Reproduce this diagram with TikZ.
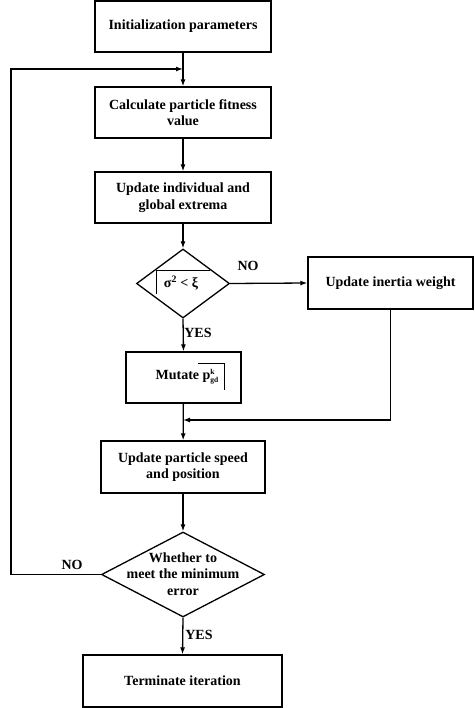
\documentclass[tikz,border=0pt]{standalone}
\usepackage{fontspec}
\setmainfont{Liberation Serif}
\usetikzlibrary{shapes.geometric,arrows.meta}
\newcommand\myfsz{\fontsize{14}{16.5}\selectfont}
\begin{document}
\begin{tikzpicture}[x=1pt,y=-1pt, line width=1.3pt,
  box/.style={draw, rectangle, align=center, inner sep=0pt, font=\myfsz\bfseries},
  dia/.style={draw, diamond, inner sep=0pt},
  txt/.style={align=center, inner sep=0pt, font=\myfsz\bfseries},
  lbl/.style={inner sep=0pt, font=\myfsz\bfseries},
  arr/.style={-{Latex[length=7pt,width=5pt]}},
  frm/.style={line width=0.9pt}]
\useasboundingbox (0,0) rectangle (474,708);
\node[box, minimum width=176, minimum height=51] (b1) at (183,26.5) {Initialization parameters};
\node[box, minimum width=176, minimum height=51] (b2) at (183,112.5) {Calculate particle fitness\\value};
\node[box, minimum width=176, minimum height=51] (b3) at (183,197.5) {Update individual and\\global extrema};
\node[dia, minimum width=93, minimum height=69] (d1) at (183,283.5) {};
\node[txt] (d1t) at (181,283) {σ\textsuperscript{2} < ξ};
\node[box, minimum width=165, minimum height=52] (b4) at (390.5,283) {Update inertia weight};
\node[box, minimum width=115, minimum height=51] (b5) at (183.5,377.5) {};
\node[txt] (b5t) at (187,377) {Mutate p\raisebox{-3.5pt}{\fontsize{7.5}{10}\selectfont\shortstack[l]{k\\gd}}};
\node[box, minimum width=164, minimum height=52] (b6) at (183,467) {Update particle speed\\and position};
\node[dia, minimum width=163, minimum height=85] (d2) at (183,574.5) {};
\node[txt] (d2t) at (183,574) {Whether to\\meet the minimum\\error};
\node[box, minimum width=199, minimum height=52] (b7) at (182.5,681) {Terminate iteration};
% frames inside texts
\draw[frm] ([shift={(-27,-13.5)}]d1.center) -- ([shift={(-27,10.5)}]d1.center);
\draw[frm] ([shift={(-27,-13.5)}]d1.center) -- ([shift={(27,-13.5)}]d1.center);
\draw[frm] ([shift={(14.5,-14)}]b5.center) -- ([shift={(40.5,-14)}]b5.center) -- ([shift={(40.5,12.5)}]b5.center);
% junctions
\coordinate (j1) at (183,69);
\coordinate (j2) at (183,420);
% connectors
\draw[arr] (b1) -- (b2);
\draw[arr] (b2) -- (b3);
\draw[arr] (b3) -- (d1);
\draw[arr] (d1.east) -- (b4.west);
\draw[arr] (d1.south) -- (b5.north);
\draw[arr] (b5) -- (b6);
\draw[arr] (b4.south) |- (j2);
\draw[arr] (b6) -- (d2);
\draw[arr] (d2.south) -- (b7.north);
\draw[arr] (d2.west) -- ++(-90,0) |- (j1);
% labels
\node[lbl] (no1) at (248,266) {NO};
\node[lbl] (yes1) at (198,333) {YES};
\node[lbl] (no2) at (72,565) {NO};
\node[lbl] (yes2) at (199,635) {YES};
\end{tikzpicture}
\end{document}
